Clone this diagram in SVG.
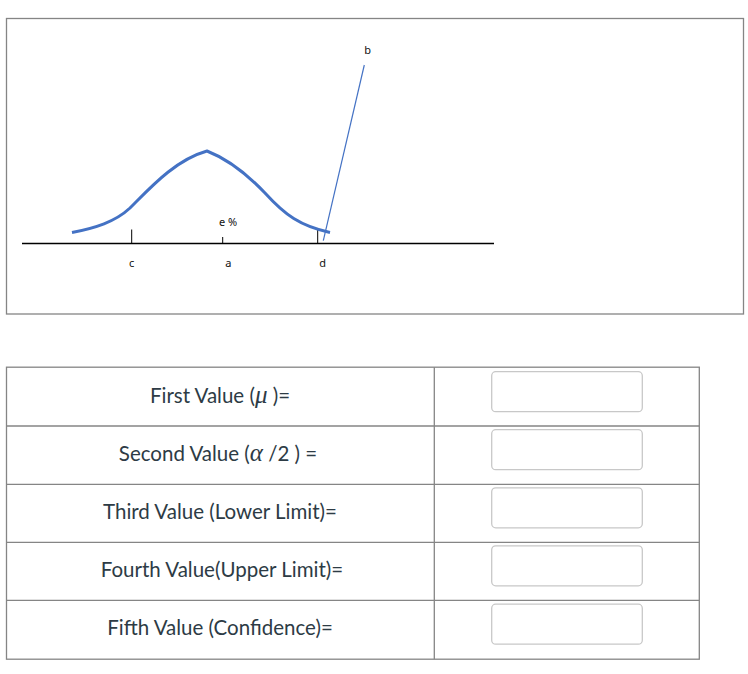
<svg xmlns="http://www.w3.org/2000/svg" width="748" height="674" viewBox="0 0 748 674">
<style>
.frame{fill:#fff;stroke:#858585;stroke-width:1.3}
.tl{stroke:#858585;stroke-width:1.3;fill:none}
.box{fill:#fff;stroke:#c8c8c8;stroke-width:1.3}
.lbl{font-family:"Noto Sans","Open Sans",sans-serif;font-size:11px;fill:#111;text-anchor:middle}
.cell{font-family:Lato,"Open Sans",sans-serif;font-size:20.5px;fill:#2d3b45;text-anchor:middle}
.gr{font-family:"Liberation Serif",serif;font-style:italic;font-size:25px}
.tick{stroke:#000;stroke-width:1}
</style>
<rect x="0" y="0" width="748" height="674" fill="#fff"/>
<g id="chart">
<rect class="frame" x="6.5" y="18.5" width="737" height="295.5"/>
<line x1="22" y1="243.5" x2="494" y2="243.5" stroke="#000" stroke-width="1.5"/>
<line class="tick" x1="131.7" y1="229.5" x2="131.7" y2="243.5"/>
<line class="tick" x1="222.7" y1="237" x2="222.7" y2="243.5"/>
<line class="tick" x1="317.7" y1="230" x2="317.7" y2="243.5"/>
<path d="M72,232.5 C95,228 115,222 130,208 C150,188 175,160 207,151 C225,158 245,172 265,193 C285,215 300,226 330,232.5" fill="none" stroke="#4472C4" stroke-width="3"/>
<line x1="364.3" y1="65" x2="323.3" y2="240.7" stroke="#4472C4" stroke-width="1.2"/>
<text class="lbl" x="131.7" y="266.5">c</text>
<text class="lbl" x="228.3" y="266.5">a</text>
<text class="lbl" x="322.7" y="266.5">d</text>
<text class="lbl" x="228" y="226">e %</text>
<text class="lbl" x="367.7" y="53.5">b</text>
</g>
<g id="table">
<rect class="tl" x="6.5" y="367.2" width="692.8" height="292"/>
<line class="tl" x1="434.3" y1="367.2" x2="434.3" y2="659.2"/>
<line class="tl" x1="6.5" y1="426" x2="699.3" y2="426"/>
<line class="tl" x1="6.5" y1="484.3" x2="699.3" y2="484.3"/>
<line class="tl" x1="6.5" y1="542.3" x2="699.3" y2="542.3"/>
<line class="tl" x1="6.5" y1="600.3" x2="699.3" y2="600.3"/>
</g>
<g id="row1">
<text class="cell" x="220" y="403">First Value (<tspan class="gr">μ</tspan> )=</text>
<rect class="box" x="491.7" y="371.7" width="150.6" height="40" rx="4"/>
</g>
<g id="row2">
<text class="cell" x="218" y="461">Second Value (<tspan class="gr">α</tspan> /2 ) =</text>
<rect class="box" x="491.7" y="429.7" width="150.6" height="40" rx="4"/>
</g>
<g id="row3">
<text class="cell" x="220" y="519">Third Value (Lower Limit)=</text>
<rect class="box" x="491.7" y="487.8" width="150.6" height="40" rx="4"/>
</g>
<g id="row4">
<text class="cell" x="222" y="577">Fourth Value(Upper Limit)=</text>
<rect class="box" x="491.7" y="545.8" width="150.6" height="40" rx="4"/>
</g>
<g id="row5">
<text class="cell" x="220" y="635">Fifth Value (Confidence)=</text>
<rect class="box" x="491.7" y="604.2" width="150.6" height="40" rx="4"/>
</g>
</svg>
